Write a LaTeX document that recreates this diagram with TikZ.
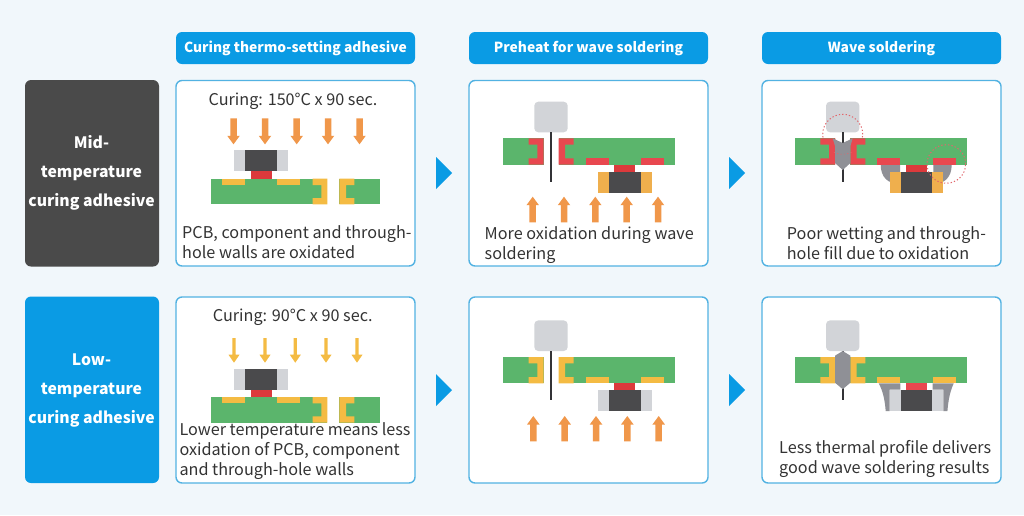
\documentclass[tikz,border=0pt]{standalone}
\usepackage{fontspec}
\setmainfont{Noto Sans CJK JP}
\definecolor{pagebg}{HTML}{F1F7FB}
\definecolor{cardline}{HTML}{52B2E2}
\definecolor{headblue}{HTML}{0A9BE4}
\definecolor{darkbox}{HTML}{4A4A4A}
\definecolor{pcbgreen}{HTML}{5BB56C}
\definecolor{metalred}{HTML}{E8484F}
\definecolor{gluered}{HTML}{DC3A3C}
\definecolor{metalyellow}{HTML}{F4BB43}
\definecolor{capamber}{HTML}{EFAF4D}
\definecolor{capgray}{HTML}{D2D4D8}
\definecolor{bodydark}{HTML}{4A4A4C}
\definecolor{heatorange}{HTML}{F0974A}
\definecolor{solder}{HTML}{8F9096}
\definecolor{pinblack}{HTML}{333336}
\definecolor{inktext}{HTML}{333333}
\definecolor{ringred}{HTML}{E2666C}
\tikzset{
  card/.style={draw=cardline,line width=1.4pt,fill=white,rounded corners=6pt},
  headbox/.style={fill=headblue,rounded corners=6pt},
  rowbox/.style={rounded corners=6pt},
  chevron/.style={fill=headblue},
  headtext/.style={text=white,font=\fontsize{13.85}{17}\selectfont\bfseries},
  rowtext/.style={text=white,align=center,font=\fontsize{15.75}{29}\selectfont\bfseries},
  bodytext/.style={text=inktext,align=left,anchor=west,inner sep=0pt,font=\fontsize{16.2}{19.6}\selectfont},
  titletext/.style={text=inktext,inner sep=0pt,font=\fontsize{16.2}{19.6}\selectfont},
  ringmark/.style={draw=ringred,line width=1pt,dash pattern=on 1.3pt off 2.1pt}
}
% vertical block arrow: x, tail y, tip y, shaft width, head width, head length, colour
\newcommand{\heatarrow}[7]{%
  \pgfmathsetmacro{\sgn}{(#3>#2)?1:-1}%
  \pgfmathsetmacro{\neck}{#3-\sgn*#6}%
  \fill[#7] ({#1-#4/2},#2) -- ({#1+#4/2},#2) -- ({#1+#4/2},\neck) -- ({#1+#5/2},\neck)
    -- (#1,#3) -- ({#1-#5/2},\neck) -- ({#1-#4/2},\neck) -- cycle;}
% chip held above the board: cap colour
\newcommand{\chipabove}[1]{%
  \fill[#1] (234,150.3) rectangle (288.3,171.3);
  \fill[bodydark] (245.3,150.3) rectangle (277.3,171.3);
  \fill[gluered] (251,171.3) rectangle (271.7,178.7);}
% board with the chip on its top side: metal colour
\newcommand{\topboard}[1]{%
  \fill[pcbgreen] (211.3,178.7) rectangle (327.3,204.3);
  \fill[pcbgreen] (339.3,178.7) rectangle (380,204.3);
  \fill[#1] (222,178.7) rectangle (245.3,185);
  \fill[#1] (277.3,178.7) rectangle (300.3,185);
  \fill[#1] (312.7,178.7) -- (327.3,178.7) -- (327.3,204.3) -- (312.7,204.3) -- (312.7,198)
    -- (321.3,198) -- (321.3,185) -- (312.7,185) -- cycle;
  \fill[#1] (339.3,178.7) -- (354.3,178.7) -- (354.3,185) -- (346,185) -- (346,198)
    -- (354.3,198) -- (354.3,204.3) -- (339.3,204.3) -- cycle;}
% board turned over, with the through-hole on the left: metal colour
\newcommand{\flipboard}[1]{%
  \fill[pcbgreen] (503.3,138.3) rectangle (543.7,164.7);
  \fill[pcbgreen] (558.7,138.3) rectangle (675,164.7);
  \fill[#1] (585.7,158.3) rectangle (608.7,164.7);
  \fill[#1] (641,158.3) rectangle (664,164.7);
  \fill[#1] (528.7,138.3) -- (543.7,138.3) -- (543.7,164.7) -- (528.7,164.7) -- (528.7,158.3)
    -- (537.3,158.3) -- (537.3,144.7) -- (528.7,144.7) -- cycle;
  \fill[#1] (558.7,138.3) -- (573.7,138.3) -- (573.7,144.7) -- (565,144.7) -- (565,158.3)
    -- (573.7,158.3) -- (573.7,164.7) -- (558.7,164.7) -- cycle;}
% lead and its component body
\newcommand{\leadbody}{%
  \fill[capgray,rounded corners=4pt] (534.3,101.7) rectangle (567.7,132.3);
  \fill[pinblack] (550.1,132.3) rectangle (551.9,181.7);}
% chip hanging beneath the turned board: cap colour
\newcommand{\chipbelow}[1]{%
  \fill[#1] (598,171.7) rectangle (651.7,192.7);
  \fill[bodydark] (609.3,171.7) rectangle (640.7,192.7);
  \fill[gluered] (614.3,164.7) rectangle (635.3,171.7);}
\begin{document}
\begin{tikzpicture}[x=1pt,y=-1pt]
\useasboundingbox (0,0) rectangle (1024,515);
\fill[pagebg] (0,0) rectangle (1024,515);

% column headings
\foreach \xa/\nm/\lab in {176/a/Curing thermo-setting adhesive,469/b/Preheat for wave soldering,762/c/Wave soldering}{
  \fill[headbox] (\xa,32) rectangle ({\xa+239},64);
  \node[headtext] (head\nm) at ({\xa+119.5},48.5) {\lab};
}

% row labels
\fill[rowbox,fill=darkbox] (25,80) rectangle (159,266.5);
\fill[rowbox,fill=headblue] (25,296.5) rectangle (159,483);
\node[rowtext] (rowmid) at (91.5,173) {Mid-\\temperature\\curing adhesive};
\node[rowtext] (rowlow) at (91.5,390.5) {Low-\\temperature\\curing adhesive};

% cards
\foreach \xa in {176,469,762}{
  \draw[card] (\xa,80.5) rectangle ({\xa+239},266);
  \draw[card] (\xa,297) rectangle ({\xa+239},483);
}

% flow markers
\foreach \xa in {436,729}{
  \fill[chevron] (\xa,157) -- ({\xa+16},173) -- (\xa,189) -- cycle;
  \fill[chevron] (\xa,374) -- ({\xa+16},390) -- (\xa,406) -- cycle;
}

% top row, curing
\foreach \xa in {233.5,265,296.7,328,359.5}{\heatarrow{\xa}{118.3}{144.3}{6.5}{12.5}{8.5}{heatorange}}
\chipabove{capgray}
\topboard{metalyellow}

% top row, preheat
\leadbody
\flipboard{metalred}
\chipbelow{capamber}
\foreach \xa in {532.7,564,595.3,626.7,658}{\heatarrow{\xa}{222.3}{196.7}{6.5}{12.5}{8.5}{heatorange}}

% top row, wave soldering
\begin{scope}[shift={(291.7,0)}]
  \leadbody
  \flipboard{metalred}
  \fill[solder] (541,138.3) -- (551,143) -- (561,138.3) -- (558.7,146) -- (558.7,163)
    -- (551,170) -- (543.3,163) -- (543.3,146) -- cycle;
  \fill[solder] (589,164.7) .. controls (589,177) and (596,184) .. (608.3,184) -- (608.3,164.7) -- cycle;
  \fill[solder] (660,164.7) .. controls (660,177) and (653,184) .. (641.7,184) -- (641.7,164.7) -- cycle;
  \fill[metalred] (585.7,158.3) rectangle (608.7,164.7);
  \fill[metalred] (641,158.3) rectangle (664,164.7);
  \chipbelow{capamber}
\end{scope}
\begin{scope}
  \clip (815,100) rectangle (870,138.3);
  \draw[ringmark] (842.7,134.3) circle[radius=20pt];
\end{scope}
\begin{scope}
  \clip (832,150) rectangle (853,156);
  \draw[ringmark,line width=.6pt] (842.7,134.3) circle[radius=20pt];
\end{scope}
\draw[ringmark] (946.3,164) circle[radius=19.3pt];

% bottom row, curing
\foreach \xa in {234,265,295.3,326,357}{\heatarrow{\xa}{338}{362.7}{3.2}{11}{8}{metalyellow}}
\begin{scope}[shift={(0,218.4)}]
  \chipabove{capgray}
  \topboard{metalyellow}
\end{scope}

% bottom row, preheat
\begin{scope}[shift={(0,218.7)}]
  \leadbody
  \flipboard{metalyellow}
  \chipbelow{capgray}
\end{scope}
\foreach \xa in {533.3,564.7,596,627.3,658.7}{\heatarrow{\xa}{441.3}{416}{6.5}{12.5}{8.5}{heatorange}}

% bottom row, wave soldering
\begin{scope}[shift={(291.7,218.7)}]
  \leadbody
  \flipboard{metalyellow}
  \fill[solder] (551,132.3) -- (558.7,137) -- (558.7,164) -- (551,170.5) -- (543.3,164) -- (543.3,137) -- cycle;
  \fill[solder] (587,164.7) -- (608.7,164.7) -- (608.7,171) -- (598,171) -- (598,192.5) -- (594,192.5)
    .. controls (593,180) and (591,172) .. (587,164.7) -- cycle;
  \fill[solder] (662,164.7) -- (641,164.7) -- (641,171) -- (651.7,171) -- (651.7,192.5) -- (655.7,192.5)
    .. controls (656.7,180) and (658.7,172) .. (662,164.7) -- cycle;
  \chipbelow{capgray}
  \fill[metalred] (614.3,164.7) rectangle (635.3,171.7);
\end{scope}

% captions
\node[titletext] (titlemid) at (293,101) {Curing: 150°C x 90 sec.};
\node[bodytext] (capa) at (182,242) {PCB, component and through-\\hole walls are oxidated};
\node[bodytext] (capb) at (484.5,245) {More oxidation during wave\\soldering};
\node[bodytext] (capc) at (786.7,243) {Poor wetting and through-\\hole fill due to oxidation};
\node[titletext] (titlelow) at (292.7,317) {Curing: 90°C x 90 sec.};
\node[bodytext] (capd) at (179.3,451) {Lower temperature means less\\oxidation of PCB, component\\and through-hole walls};
\node[bodytext] (cape) at (779,459) {Less thermal profile delivers\\good wave soldering results};
\end{tikzpicture}
\end{document}
